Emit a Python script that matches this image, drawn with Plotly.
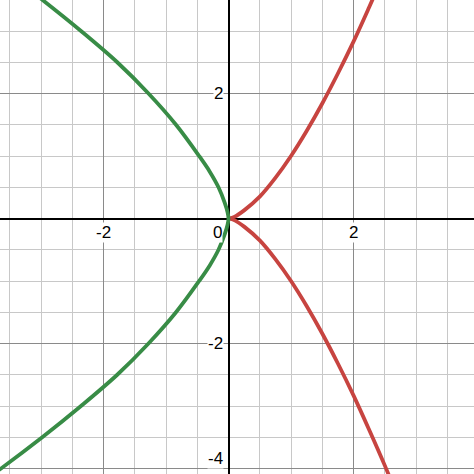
import plotly.graph_objects as go


# Red curve, upper branch
red_x = [0, 0.1, 0.25, 0.5, 0.75, 1.0, 1.25, 1.5, 1.75, 2.0, 2.25, 2.4]
red_y_upper = [0, 0.03, 0.13, 0.35, 0.65, 1.0, 1.4, 1.84, 2.32, 2.83, 3.38,
               3.72]

# Red curve, lower branch
red_x_lower = [0, 0.1, 0.25, 0.5, 0.75, 1.0, 1.25, 1.5, 1.75, 2.0, 2.25, 2.5,
               2.62]
red_y_lower = [0, -0.03, -0.13, -0.35, -0.65, -1.0, -1.4, -1.84, -2.32, -2.83,
               -3.38, -3.95, -4.24]

# Green curve, from top left down through the origin to bottom left
green_y = [3.6, 3.5, 3.0, 2.5, 2.0, 1.5, 1.0, 0.75, 0.5, 0.25, 0.1, 0,
           -0.1, -0.25, -0.5, -0.75, -1.0, -1.5, -2.0, -2.5, -3.0, -3.5,
           -4.0, -4.2]
green_x = [-3.11, -2.98, -2.36, -1.78, -1.28, -0.84, -0.47, -0.3, -0.16,
           -0.06, -0.015, 0,
           -0.015, -0.06, -0.16, -0.3, -0.47, -0.84, -1.28, -1.78, -2.36,
           -2.98, -3.64, -3.92]

# Axis labels
x_tick_vals = [-2, 2]
x_tick_text = ['-2', '2']
y_tick_vals = [2, -2, -4]
y_tick_text = ['2', '-2', '-4']

RED = '#c74440'
GREEN = '#388c46'


def add_curves(fig):
    """
    Add the two red branches and the green curve
    """
    line_red = dict(color=RED, width=3.8, shape='spline')
    fig.add_trace(go.Scatter(x=red_x, y=red_y_upper, mode='lines',
                             line=line_red, hoverinfo='skip'))
    fig.add_trace(go.Scatter(x=red_x_lower, y=red_y_lower, mode='lines',
                             line=line_red, hoverinfo='skip'))
    fig.add_trace(go.Scatter(x=green_x, y=green_y, mode='lines',
                             line=dict(color=GREEN, width=3.8, shape='spline'),
                             hoverinfo='skip'))


def add_labels(fig):
    """
    Desmos style labels sitting next to the axes
    """
    font = dict(family='Liberation Sans, Arial', size=17, color='black')
    for val, text in zip(x_tick_vals, x_tick_text):
        fig.add_annotation(x=val, y=0, text=text, showarrow=False,
                           yshift=-14, font=font, bgcolor='white',
                           borderpad=0)
    fig.add_annotation(x=0, y=0, text='0', showarrow=False, xshift=-11,
                       yshift=-14, font=font, bgcolor='white', borderpad=0)
    for val, text in zip(y_tick_vals, y_tick_text):
        # Bottom label gets pushed up so it stays inside the view
        shift = 10 if val == -4 else 0
        fig.add_annotation(x=0, y=val, text=text, showarrow=False,
                           xanchor='right', xshift=-5, yshift=shift,
                           font=font, bgcolor='white', borderpad=0)


def main():
    fig = go.Figure()
    add_curves(fig)
    add_labels(fig)

    axis_common = dict(
        tick0=0, dtick=2,
        showgrid=True, gridcolor='#8a8a8a', gridwidth=1,
        minor=dict(tick0=0, dtick=0.5, showgrid=True,
                   gridcolor='#c8c8c8', gridwidth=1),
        zeroline=True, zerolinecolor='black', zerolinewidth=2,
        showticklabels=False, ticks='', showline=False,
    )
    fig.update_xaxes(range=[-3.656, 3.928], **axis_common)
    fig.update_yaxes(range=[-4.088, 3.496], **axis_common)

    fig.update_layout(
        width=474, height=474,
        margin=dict(l=0, r=0, t=0, b=0),
        plot_bgcolor='white', paper_bgcolor='white',
        showlegend=False,
    )

    # Drop the page margin so the plot fills the window
    fig.write_html("out.html", config={'staticPlot': True},
                   post_script="document.body.style.margin='0';"
                               "document.body.style.overflow='hidden';")


if __name__ == '__main__':
    main()
